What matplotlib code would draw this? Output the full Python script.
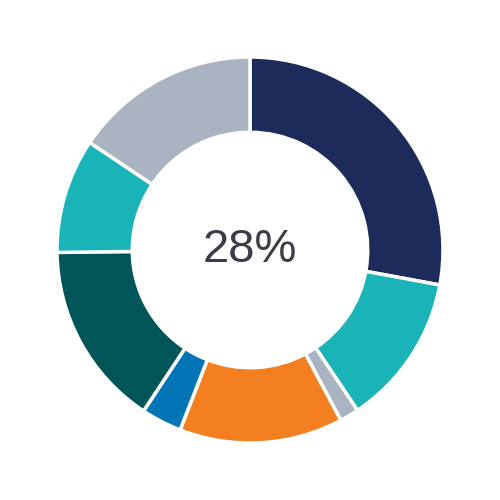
import matplotlib
matplotlib.use("Agg")
import matplotlib.pyplot as plt

# segment shares, clockwise from 12 o'clock
shares = [27.9, 12.7, 1.6, 13.7, 3.4, 15.5, 9.6, 15.6]
colors = ["#1c2b5a", "#1ab4b8", "#a9b3c1", "#f47f20",
          "#0374b5", "#005558", "#1ab4b8", "#a9b3c1"]
center_label = "28%"

fig = plt.figure(figsize=(5, 5), dpi=100)
ax = fig.add_axes([0, 0, 1, 1])

ax.pie(shares, colors=colors, startangle=90, counterclock=False,
       radius=1.0,
       wedgeprops=dict(width=0.39, edgecolor="white", linewidth=2.5))

ax.text(0, 0.0, center_label, ha="center", va="center",
        fontsize=34, color="#3a3e46", family=["Liberation Sans", "DejaVu Sans"])

lim = 250 / 193
ax.set_xlim(-lim, lim)
ax.set_ylim(-lim, lim)
ax.set_aspect("equal")
ax.axis("off")

fig.savefig("out.png", dpi=100, facecolor="white")
